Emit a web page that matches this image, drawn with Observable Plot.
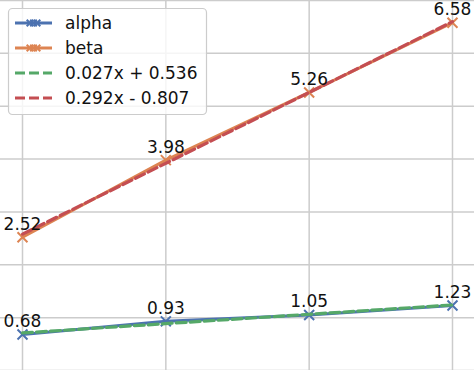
<!DOCTYPE html>
<html>
<head>
<meta charset="utf-8">
<script src="https://cdn.jsdelivr.net/npm/d3@7"></script>
<script src="https://cdn.jsdelivr.net/npm/@observablehq/plot@0.6"></script>
<style>
  html, body { margin: 0; padding: 0; background: #fff; }
  #chart svg { display: block; font-family: "DejaVu Sans", sans-serif; }
</style>
</head>
<body>
<div id="chart"></div>
<script>
const xs = [0, 1, 2, 3];
const alpha = [0.68, 0.93, 1.05, 1.23];
const beta = [2.52, 3.98, 5.26, 6.58];
const trendX = [0, 3];
const trendAlpha = [0.71, 1.24];
const trendBeta = [2.58, 6.60];
const seriesNames = ["alpha", "beta", "0.027x + 0.536", "0.292x - 0.807"];
const colors = ["#4c72b0", "#dd8452", "#55a868", "#c44e52"];
const xTicks = [0, 1, 2, 3];
const yTicks = [0, 1, 2, 3, 4, 5, 6, 7];

const alphaData = xs.map((x, i) => ({x, y: alpha[i]}));
const betaData = xs.map((x, i) => ({x, y: beta[i]}));
const tA = trendX.map((x, i) => ({x, y: trendAlpha[i]}));
const tB = trendX.map((x, i) => ({x, y: trendBeta[i]}));

const W = 474, H = 370;
const chart = Plot.plot({
  width: W, height: H,
  margin: 0,
  x: {domain: [-0.1535, 3.1535], axis: null},
  y: {domain: [0, 7], axis: null},
  style: {fontFamily: "DejaVu Sans, sans-serif", background: "#fff", fontSize: "17px"},
  marks: [
    Plot.gridX(xTicks, {stroke: "#cccccc", strokeOpacity: 1, strokeWidth: 1.5}),
    Plot.gridY(yTicks, {stroke: "#cccccc", strokeOpacity: 1, strokeWidth: 1.5}),
    Plot.line(alphaData, {x: "x", y: "y", stroke: colors[0], strokeWidth: 3}),
    Plot.dot(alphaData, {x: "x", y: "y", symbol: "times", r: 4.6, stroke: colors[0], strokeWidth: 2}),
    Plot.line(betaData, {x: "x", y: "y", stroke: colors[1], strokeWidth: 3}),
    Plot.dot(betaData, {x: "x", y: "y", symbol: "times", r: 4.6, stroke: colors[1], strokeWidth: 2}),
    Plot.line(tA, {x: "x", y: "y", stroke: colors[2], strokeWidth: 3.2, strokeDasharray: "10,4"}),
    Plot.line(tB, {x: "x", y: "y", stroke: colors[3], strokeWidth: 3.2, strokeDasharray: "10,4"}),
    Plot.text(alphaData, {x: "x", y: "y", text: d => d.y.toFixed(2), dy: -13, fontSize: 17, fill: "#111", lineAnchor: "middle"}),
    Plot.text(betaData, {x: "x", y: "y", text: d => d.y.toFixed(2), dy: -13, fontSize: 17, fill: "#111", lineAnchor: "middle"})
  ]
});
document.getElementById("chart").appendChild(chart);

// legend inside the plot (top-left)
const svg = d3.select(chart);
const lg = svg.append("g")
  .attr("font-family", "DejaVu Sans, sans-serif")
  .attr("text-anchor", "start")
  .style("font-size", "17px");
lg.append("rect")
  .attr("x", 8.5).attr("y", 8.5).attr("width", 198).attr("height", 106)
  .attr("rx", 4).attr("fill", "#fff").attr("fill-opacity", 0.8)
  .attr("stroke", "#cccccc").attr("stroke-width", 1.2);
const timesPath = s => `M${-s},${-s}L${s},${s}M${-s},${s}L${s},${-s}`;
seriesNames.forEach((name, i) => {
  const y = 23 + i * 25;
  const g = lg.append("g");
  g.append("line").attr("x1", 15).attr("x2", 52).attr("y1", y).attr("y2", y)
    .attr("stroke", colors[i]).attr("stroke-width", i < 2 ? 3 : 3.2)
    .attr("stroke-dasharray", i < 2 ? null : "10,4");
  if (i < 2) {
    [30, 33.5, 37].forEach(cx => {
      g.append("path").attr("d", timesPath(3.3)).attr("transform", `translate(${cx},${y})`)
        .attr("stroke", colors[i]).attr("stroke-width", 2).attr("fill", "none");
    });
  }
  g.append("text").attr("x", 65).attr("y", y).attr("dy", "0.35em")
    .style("font-size", "17px").attr("text-anchor", "start").attr("fill", "#111").text(name);
});
</script>
</body>
</html>
